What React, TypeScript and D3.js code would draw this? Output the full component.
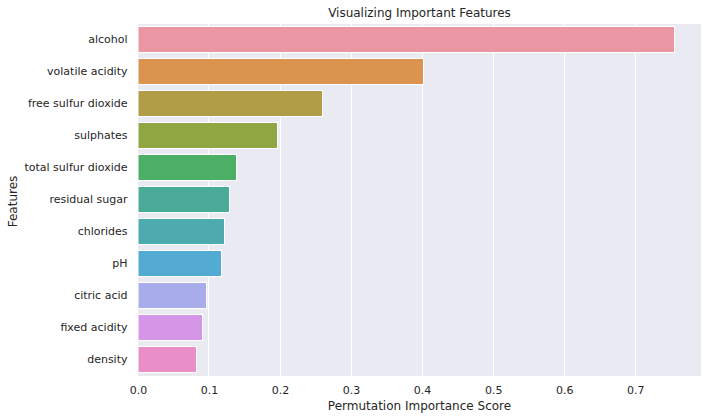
import * as d3 from "d3";
import { useRef, useEffect } from "react";

const features = [
    "alcohol",
    "volatile acidity",
    "free sulfur dioxide",
    "sulphates",
    "total sulfur dioxide",
    "residual sugar",
    "chlorides",
    "pH",
    "citric acid",
    "fixed acidity",
    "density",
];
const scores = [0.755, 0.402, 0.26, 0.196, 0.1385, 0.1286, 0.1216, 0.1173, 0.0962, 0.0906, 0.0821];
const barColors = [
    "#ea96a3", "#db9350", "#b19c47", "#8fa643", "#4bb066", "#4aab99",
    "#4dabaf", "#53abd3", "#a9acea", "#d696e8", "#e98ec6",
];
const xTicks = [0, 0.1, 0.2, 0.3, 0.4, 0.5, 0.6, 0.7];

export default function App() {
    const width = 708;
    const height = 420;
    const marginTop = 24;
    const marginRight = 7;
    const marginBottom = 44;
    const marginLeft = 138;
    const font = "'DejaVu Sans', sans-serif";
    const textColor = "#262626";

    const gx = useRef<SVGGElement>(null);
    const gy = useRef<SVGGElement>(null);

    const x = d3.scaleLinear([0, 0.7926], [marginLeft - 0.05, width - marginRight]);
    const y = d3.scaleBand(features, [marginTop, height - marginBottom]);
    const snap = (v: number) => Math.floor(v) + 0.5;
    const barHeight = Math.round(y.bandwidth() * 0.8);
    const rowCenter = (f: string) => (y(f) as number) + y.bandwidth() / 2 - 0.5;

    useEffect(() => {
        if (gx.current) {
            const axis = d3.axisBottom(x).tickValues(xTicks).tickFormat(d3.format(".1f")).tickSize(0).tickPadding(10);
            const g = d3.select(gx.current).call(axis);
            g.select(".domain").remove();
            g.selectAll("text").attr("fill", textColor).style("font-size", "11px").style("font-family", font);
        }
    }, [gx, x]);
    useEffect(() => {
        if (gy.current) {
            const axis = d3.axisLeft(y).tickSize(0).tickPadding(10.5);
            const g = d3.select(gy.current).call(axis);
            g.select(".domain").remove();
            g.selectAll("text").attr("fill", textColor).style("font-size", "11px").style("font-family", font);
            g.selectAll<SVGGElement, string>(".tick").attr("transform", (d) => `translate(0,${rowCenter(d)})`);
        }
    }, [gy, y]);

    return (
        <svg width={width} height={height} style={{ position: "absolute", left: 0, top: 0, background: "white" }}>
            <rect x={marginLeft} y={marginTop} width={width - marginLeft - marginRight} height={height - marginTop - marginBottom} fill="#eaeaf2" />
            <g stroke="white" strokeWidth="1">
                {xTicks.map((t) => (
                    <line key={t} x1={snap(x(t))} x2={snap(x(t))} y1={marginTop} y2={height - marginBottom} />
                ))}
            </g>
            <g stroke="white" strokeWidth="1">
                {features.map((f, i) => (
                    <rect key={f} x={marginLeft} y={rowCenter(f) - barHeight / 2} width={snap(x(scores[i])) - marginLeft} height={barHeight} fill={barColors[i]} />
                ))}
            </g>
            <g ref={gx} transform={`translate(0,${height - marginBottom})`} />
            <g ref={gy} transform={`translate(${marginLeft},0)`} />
            <text x={(marginLeft + width - marginRight) / 2} y={17} textAnchor="middle" fontSize="12" fontFamily={font} fill={textColor}>
                Visualizing Important Features
            </text>
            <text x={(marginLeft + width - marginRight) / 2} y={410} textAnchor="middle" fontSize="12" fontFamily={font} fill={textColor}>
                Permutation Importance Score
            </text>
            <text transform="translate(17,201.5) rotate(-90)" textAnchor="middle" fontSize="12" fontFamily={font} fill={textColor}>
                Features
            </text>
        </svg>
    );
}
